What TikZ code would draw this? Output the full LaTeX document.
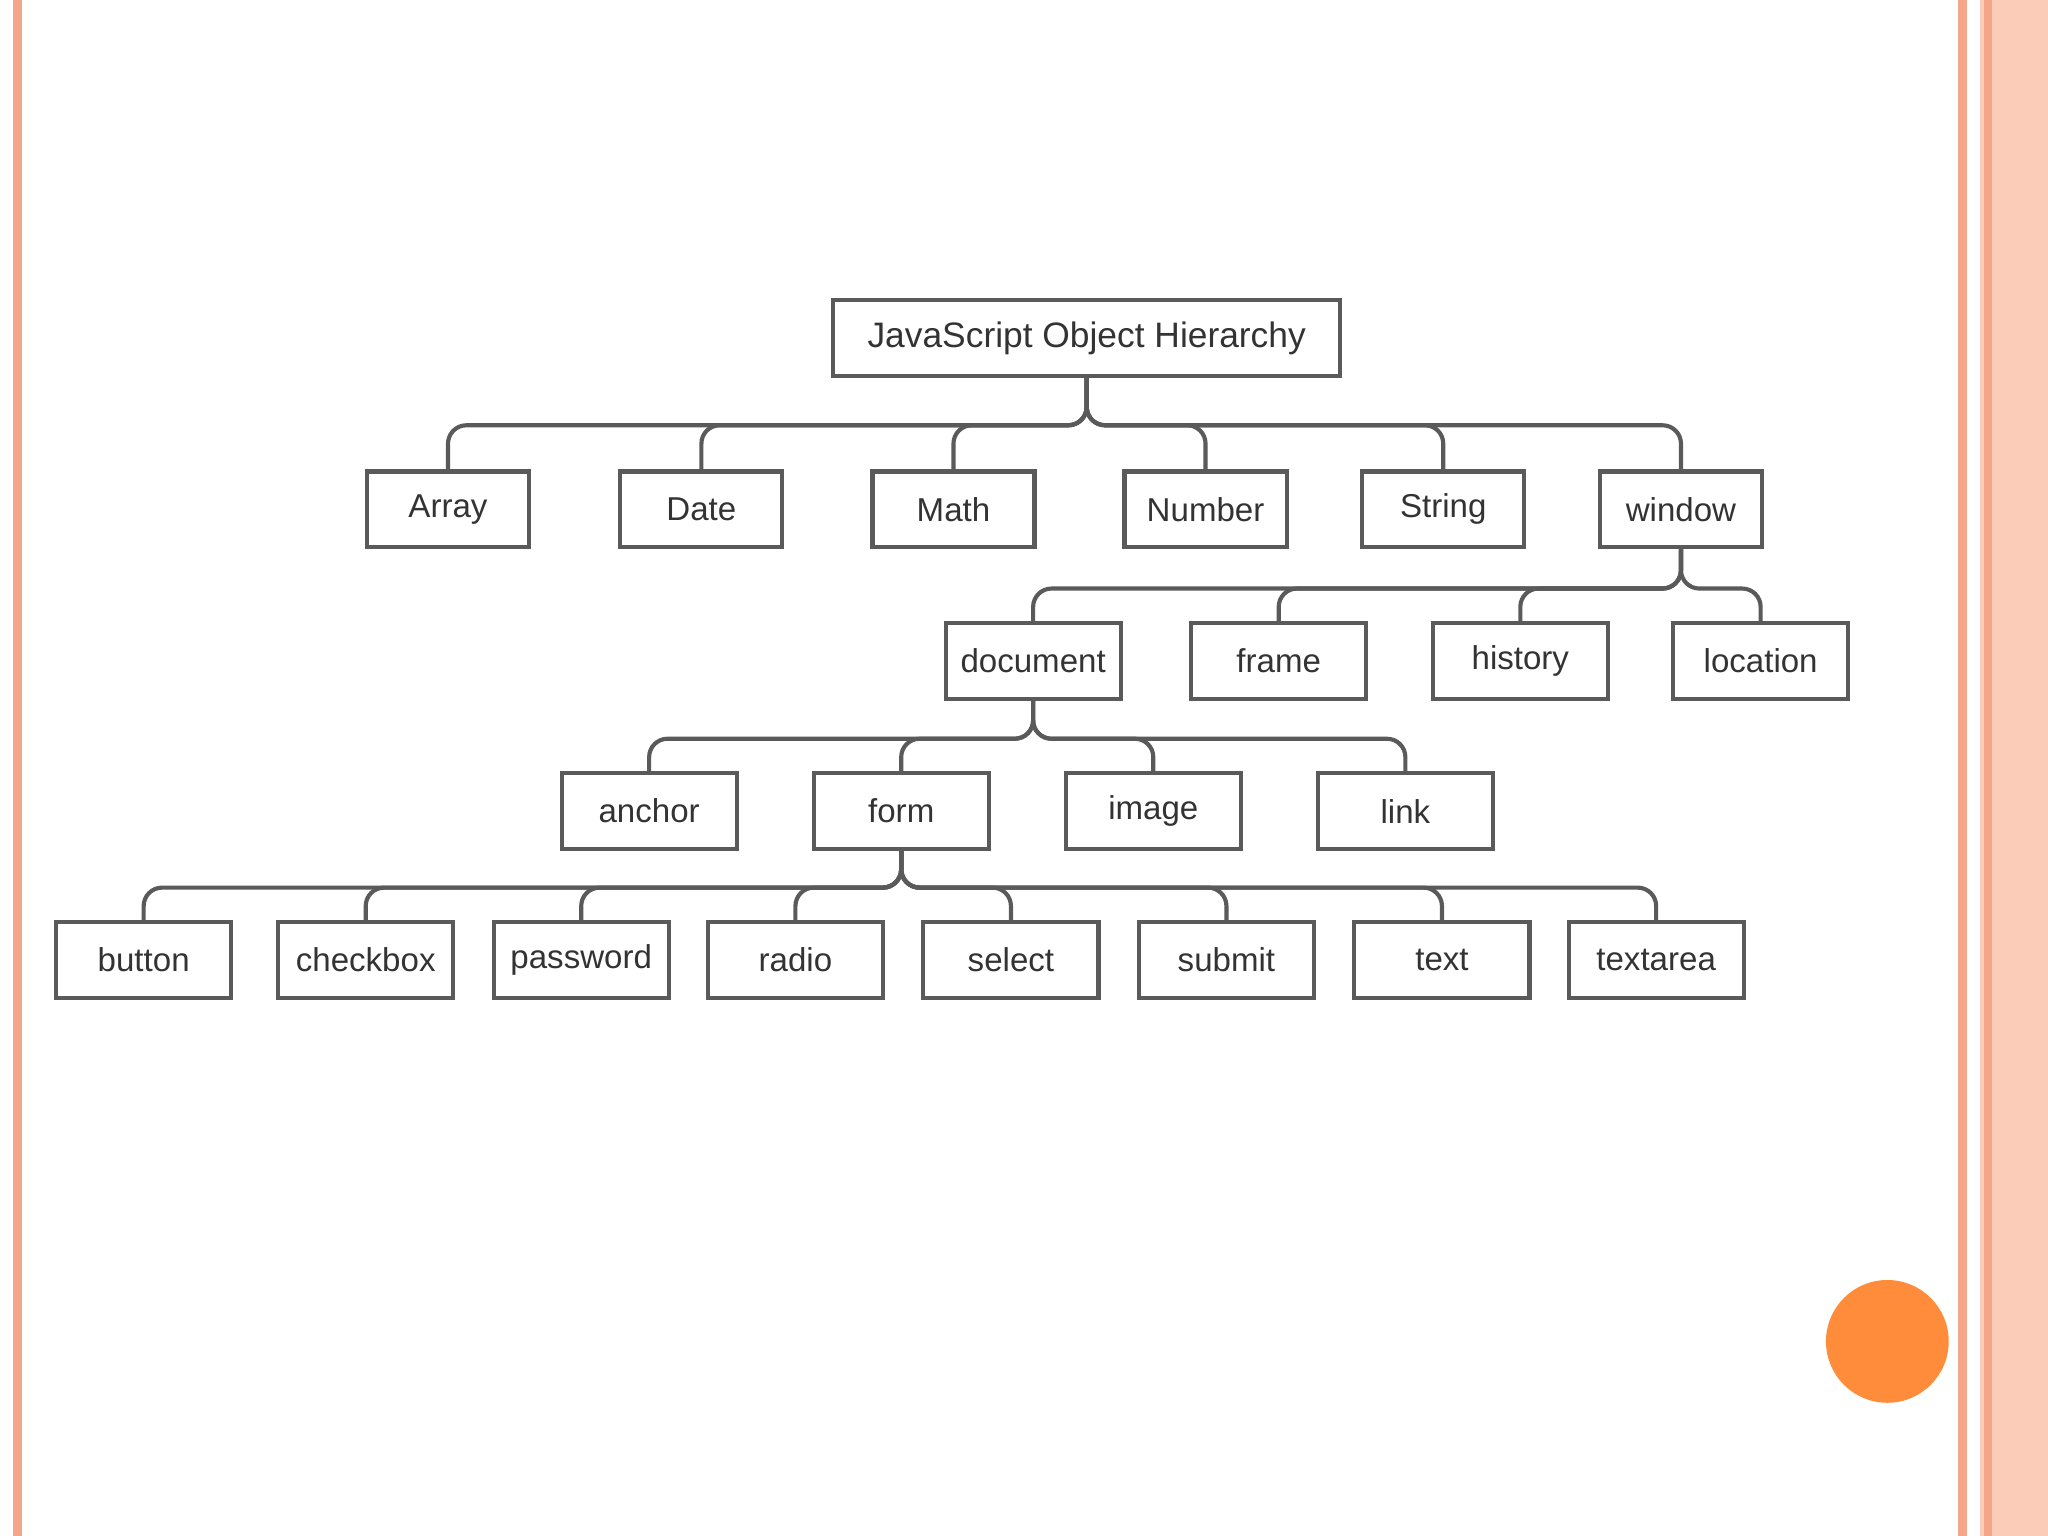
\documentclass[tikz,border=0pt]{standalone}
\usepackage{fontspec}
\setmainfont{Liberation Sans}
\usetikzlibrary{positioning}
\definecolor{boxline}{HTML}{5A5A5A}
\definecolor{edge}{HTML}{F4A58A}
\definecolor{band}{HTML}{FBCDB8}
\definecolor{dot}{HTML}{FF8C3A}
\tikzset{
  objbox/.style={draw=boxline, line width=0.9pt, minimum height=0.58cm, text=black!80,
    font=\fontsize{7.2}{9}\selectfont, inner sep=0pt},
  link/.style={draw=boxline, line width=0.9pt, rounded corners=4pt}
}
\begin{document}
\begin{tikzpicture}[x=0.01cm,y=-0.01cm]
        % page and side bands
        \useasboundingbox (0,0) rectangle (1568,1176);
        \fill[white] (0,0) rectangle (1568,1176);
        \fill[edge] (10,0) rectangle (17,1176);
        \fill[edge] (1499,0) rectangle (1506,1176);
        \fill[band] (1516,0) rectangle (1568,1176);
        \fill[edge] (1519,0) rectangle (1525,1176);
        \fill[dot] (1445,1027) circle (47);

        % the boxes
        \node[objbox, minimum width=3.88cm, font=\fontsize{7.7}{9}\selectfont] (root) at (832,259) {JavaScript Object Hierarchy};

        \foreach \n/\x/\t in {array/343/Array, date/537/Date, math/730/Math,
            number/923/Number, string/1105/String, window/1287/window}
          \node[objbox, minimum width=1.24cm] (\n) at (\x,390) {\t};

        \foreach \n/\x/\t in {document/791/document, frame/979/frame,
            history/1164/history, location/1348/location}
          \node[objbox, minimum width=1.34cm] (\n) at (\x,506) {\t};

        \foreach \n/\x/\t in {anchor/497/anchor, form/690/form,
            image/883/image, linkobj/1076/link}
          \node[objbox, minimum width=1.34cm] (\n) at (\x,621) {\t};

        \foreach \n/\x/\t in {button/110/button, checkbox/280/checkbox,
            password/445/password, radio/609/radio, select/774/select,
            submit/939/submit, text/1104/text, textarea/1268/textarea}
          \node[objbox, minimum width=1.34cm] (\n) at (\x,735) {\t};

        % draw the connectors
        \foreach \c in {array, date, math, number, string, window}
          \draw[link] (root.south) -- ++(0,36) -| (\c.north);
        \foreach \c in {document, frame, history, location}
          \draw[link] (window.south) -- ++(0,30) -| (\c.north);
        \foreach \c in {anchor, form, image, linkobj}
          \draw[link] (document.south) -- ++(0,29) -| (\c.north);
        \foreach \c in {button, checkbox, password, radio, select, submit, text, textarea}
          \draw[link] (form.south) -- ++(0,28) -| (\c.north);

\end{tikzpicture}
\end{document}
